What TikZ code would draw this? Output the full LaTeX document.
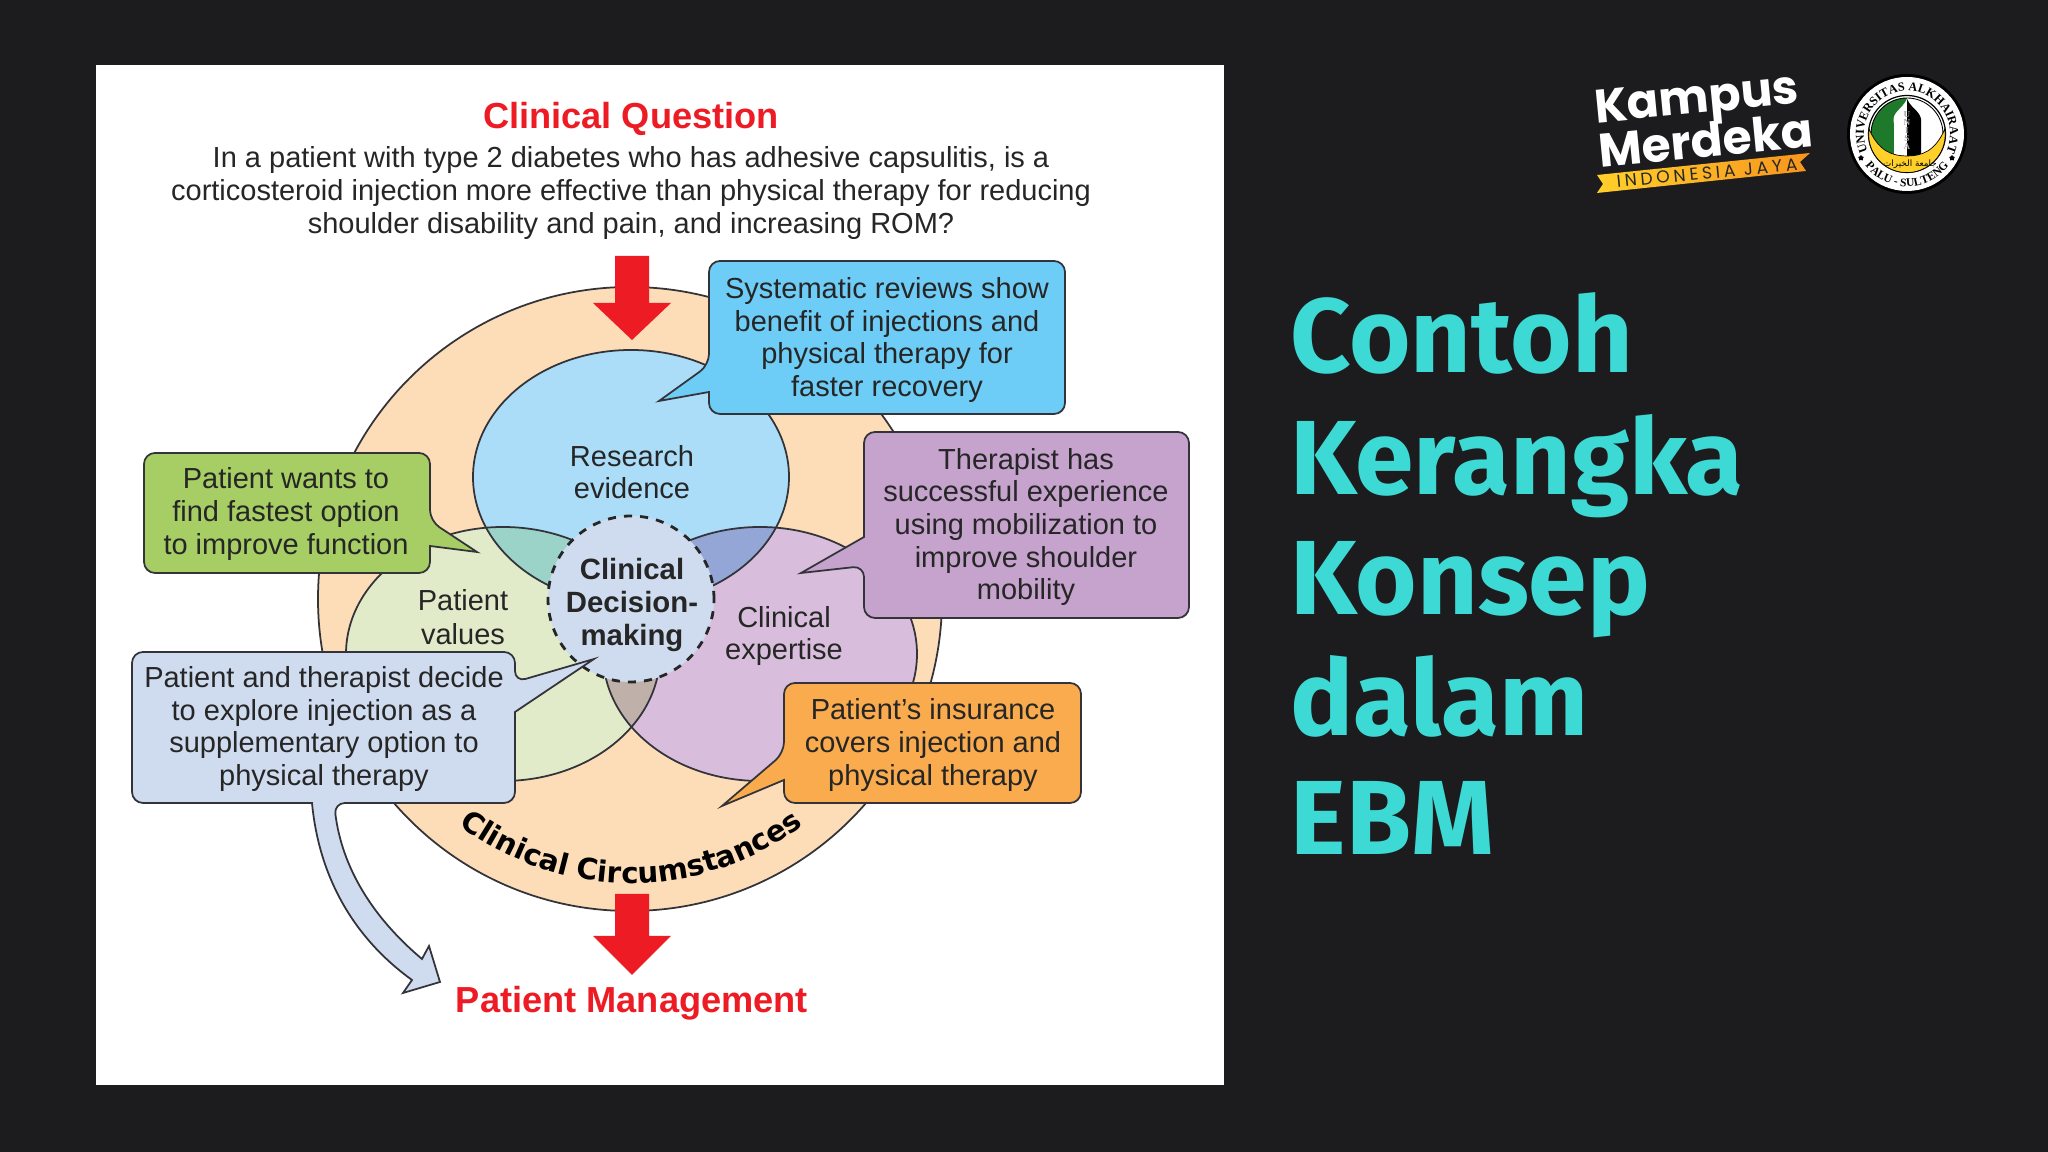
\documentclass[tikz,border=0pt]{standalone}
\usepackage{fontspec}
\usepackage{xcolor}
\usepackage{tikz}
\usetikzlibrary{calc,decorations.text,shapes.geometric}
\setmainfont{Liberation Sans}
\newfontfamily\titlefont{Fira Sans}
\newfontfamily\logofont{Poppins}
\newfontfamily\bannerfont[LetterSpace=22]{Poppins}
\newfontfamily\sealfont{Liberation Serif}
\newfontfamily\heavyfont{DejaVu Sans}
\newfontfamily\sealarabic[Script=Arabic]{DejaVu Sans}
\TeXXeTstate=1
\definecolor{kbg}{HTML}{1C1C1E}
\definecolor{kteal}{HTML}{3DD9D4}
\definecolor{kred}{HTML}{ED1C24}
\definecolor{kline}{HTML}{33333A}
\definecolor{kpeach}{HTML}{FDDCB8}
\definecolor{kresearch}{HTML}{ABDDF8}
\definecolor{kvalues}{HTML}{E1EBC9}
\definecolor{kexpert}{HTML}{D9BDDC}
\definecolor{krv}{HTML}{9BD3C8}
\definecolor{kre}{HTML}{93A6D6}
\definecolor{kve}{HTML}{BFB0AA}
\definecolor{kcentre}{HTML}{CFDBEE}
\definecolor{kcblue}{HTML}{6ECDF6}
\definecolor{kcgreen}{HTML}{A6CE64}
\definecolor{kcpurple}{HTML}{C5A3CD}
\definecolor{kcorange}{HTML}{F9AB4E}
\definecolor{kyellow}{HTML}{FFD02A}
\definecolor{korange}{HTML}{F7941E}
\definecolor{kgreen}{HTML}{1E7A2A}
\tikzset{
  kring/.style={draw=kline, line width=0.5pt},
  kcall/.style={draw=kline, line width=0.5pt},
  ktxt/.style={text=black!85, align=center, inner sep=0pt, font=\fontsize{8.25}{9.3}\selectfont},
  khead/.style={text=kred, align=center, inner sep=0pt, font=\fontsize{10.3}{11}\selectfont\bfseries},
  kbig/.style={text=kteal, anchor=base west, inner sep=0pt, font=\fontsize{30}{30}\selectfont\titlefont\bfseries},
  klogo/.style={text=white, rotate=5.5, inner sep=0pt, font=\fontsize{13.4}{14}\selectfont\logofont\bfseries},
  kstar/.style={star, star points=5, fill=black, inner sep=0pt, minimum size=1.7pt},
}

\begin{document}
\begin{tikzpicture}

  \fill[kbg] (0,0) rectangle (20.48,11.52);
  \useasboundingbox (0,0) rectangle (20.48,11.52);
  \fill[white] (0.96,0.67) rectangle (12.24,10.87);

  % ambiente e circulos
  \fill[kpeach] (6.30,5.53) circle (3.12);
  \draw[kring] (6.30,5.53) circle (3.12);
  \fill[kresearch] (6.31,6.75) ellipse (1.58 and 1.27);
  \fill[kvalues] (5.03,4.98) ellipse (1.57 and 1.27);
  \fill[kexpert] (7.60,4.98) ellipse (1.57 and 1.27);
  \begin{scope}
    \clip (6.31,6.75) ellipse (1.58 and 1.27);
    \fill[krv] (5.03,4.98) ellipse (1.57 and 1.27);
    \fill[kre] (7.60,4.98) ellipse (1.57 and 1.27);
  \end{scope}
  \begin{scope}
    \clip (5.03,4.98) ellipse (1.57 and 1.27);
    \fill[kve] (7.60,4.98) ellipse (1.57 and 1.27);
  \end{scope}
  \draw[kring] (6.31,6.75) ellipse (1.58 and 1.27);
  \draw[kring] (5.03,4.98) ellipse (1.57 and 1.27);
  \draw[kring] (7.60,4.98) ellipse (1.57 and 1.27);
  \fill[kcentre] (6.31,5.53) circle (0.83);
  \draw[black!85, line width=0.8pt, dash pattern=on 2.3pt off 2.3pt] (6.31,5.53) circle (0.83);

  % setas vermelhas
  \foreach \a/\b/\c in {8.96/8.49/8.12, 2.58/2.16/1.77}
    \fill[kred] (6.15,\a) -- (6.49,\a) -- (6.49,\b) -- (6.71,\b) -- (6.32,\c)
      -- (5.93,\b) -- (6.15,\b) -- cycle;

  % baloes
  \draw[kcall, fill=kcblue, rounded corners=1.1mm] (7.09,7.60) -- (7.09,7.38) -- (10.65,7.38)
    -- (10.65,8.91) -- (7.09,8.91) -- (7.09,7.87) [sharp corners] -- (6.59,7.51) -- cycle;
  \draw[kcall, fill=kcgreen, rounded corners=1.1mm] (4.30,6.06) -- (4.30,5.79) -- (1.44,5.79)
    -- (1.44,6.99) -- (4.30,6.99) -- (4.30,6.31) [sharp corners] -- (4.77,6.00) -- cycle;
  \draw[kcall, fill=kcpurple, rounded corners=1.1mm] (8.64,6.15) -- (8.64,7.20) -- (11.89,7.20)
    -- (11.89,5.34) -- (8.64,5.34) -- (8.64,5.86) [sharp corners] -- (8.01,5.79) -- cycle;
  \draw[kcall, fill=kcorange, rounded corners=1.1mm] (7.84,3.72) -- (7.84,3.49) -- (10.81,3.49)
    -- (10.81,4.69) -- (7.84,4.69) -- (7.84,3.99) [sharp corners] -- (7.22,3.46) -- cycle;
  \draw[kcall, fill=kcentre, rounded corners=1.1mm] (5.15,4.40) -- (5.15,3.49) -- (3.34,3.49)
    [sharp corners] .. controls (3.42,2.85) and (3.72,2.35) .. (4.22,1.93)
    -- (4.29,2.06) -- (4.40,1.70) -- (4.03,1.59) -- (4.12,1.72)
    .. controls (3.62,2.08) and (3.20,2.65) .. (3.12,3.49)
    [rounded corners=1.1mm] -- (1.32,3.49) -- (1.32,5.00) -- (5.15,5.00) -- (5.15,4.70)
    [sharp corners] -- (5.94,4.93) -- cycle;

  % textos
  \node[khead] (question) at (6.31,10.33) {Clinical Question};
  \node[ktxt, font=\fontsize{8.25}{9.4}\selectfont] (pico) at (6.31,9.59)
    {In a patient with type 2 diabetes who has adhesive capsulitis, is a\\
     corticosteroid injection more effective than physical therapy for reducing\\
     shoulder disability and pain, and increasing ROM?};
  \node[khead] (management) at (6.32,1.49) {Patient Management};
  \node[ktxt] (research) at (6.32,6.80) {Research\\evidence};
  \node[ktxt, font=\fontsize{8.25}{9.7}\selectfont] (values) at (4.63,5.35) {Patient\\values};
  \node[ktxt] (expertise) at (7.84,5.16) {Clinical\\expertise};
  \node[ktxt, font=\fontsize{8.35}{9.3}\selectfont\bfseries] (decision) at (6.32,5.47)
    {Clinical\\Decision-\\making};
  \node[ktxt] (reviews) at (8.87,8.12) {Systematic reviews show\\benefit of injections and\\physical therapy for\\faster recovery};
  \node[ktxt] (wants) at (2.86,6.38) {Patient wants to\\find fastest option\\to improve function};
  \node[ktxt] (therapist) at (10.26,6.25) {Therapist has\\successful experience\\using mobilization to\\improve shoulder\\mobility};
  \node[ktxt] (explore) at (3.24,4.23) {Patient and therapist decide\\to explore injection as a\\supplementary option to\\physical therapy};
  \node[ktxt] (insurance) at (9.33,4.07) {Patient’s insurance\\covers injection and\\physical therapy};

  \path[decorate, decoration={text along path, text align=center,
      text={|\fontsize{8.3}{9}\selectfont\heavyfont\bfseries|Clinical Circumstances}}]
    (6.31,5.53) ++(205:2.84) arc (205:335:2.84);

  % titulo
  \node[kbig] (contoh) at (12.90,7.79) {Contoh};
  \node[kbig] (kerangka) at (12.90,6.57) {Kerangka};
  \node[kbig] (konsep) at (12.90,5.37) {Konsep};
  \node[kbig] (dalam) at (12.90,4.16) {dalam};
  \node[kbig] (ebm) at (12.90,2.97) {EBM};

  % logo kampus merdeka
  \node[klogo] (kampus) at (16.97,10.49) {Kampus};
  \node[klogo] (merdeka) at (17.06,10.12) {Merdeka};
  \shade[left color=kyellow, right color=korange] (15.97,9.77) -- (18.10,9.99) -- (18.00,9.90)
    -- (18.06,9.81) -- (15.97,9.59) -- (16.03,9.68) -- cycle;
  \node[text=black!85, rotate=5.5, inner sep=0pt, font=\fontsize{4.9}{5}\selectfont\bannerfont] (jaya) at (17.07,9.79) {INDONESIA JAYA};

  % selo
  \begin{scope}[shift={(19.07,10.18)}]
    \fill[black] (0,0) circle (0.60);
    \fill[white] (0,0) circle (0.57);
    \draw[black, line width=0.35pt] (0,0) circle (0.385);
    \begin{scope}
      \clip (0,0) circle (0.36);
      \fill[kgreen] (-0.36,-0.36) rectangle (0,0.36);
    \end{scope}
    \draw[black, line width=0.25pt] (0,0) circle (0.36);
    \fill[white] (0,0.35) .. controls (-0.05,0.24) and (-0.16,0.22) .. (-0.13,0.10)
      -- (-0.13,-0.24) -- (0,-0.24) -- cycle;
    \fill[black] (0,0.35) .. controls (0.05,0.24) and (0.16,0.22) .. (0.14,0.10)
      -- (0.14,-0.24) -- (0,-0.24) -- cycle;
    \filldraw[fill=kyellow, draw=black, line width=0.2pt] (-0.38,0.05) arc (172:368:0.383)
      .. controls (0.28,-0.18) and (0.14,-0.22) .. (0,-0.22)
      .. controls (-0.14,-0.22) and (-0.28,-0.18) .. (-0.38,0.05) -- cycle;
    \foreach \l/\h in {U/0.19, N/0.11, I/0.03, S/-0.05, A/-0.13}
      \node[text=black!35, inner sep=0pt, font=\fontsize{2.6}{3}\selectfont\sealfont\bfseries] (unisa\l) at (0,\h) {\l};
    \node[kstar] (staleft) at (-0.46,-0.24) {};
    \node[kstar] (staright) at (0.45,-0.24) {};
    \path[decorate, decoration={text along path, text align=center,
        text={|\fontsize{3.5}{4}\selectfont\sealfont\bfseries|UNIVERSITAS ALKHAIRAAT}}]
      (240:0.43) arc (240:-60:0.43);
    \path[decorate, decoration={text along path, text align=center,
        text={|\fontsize{3.3}{4}\selectfont\sealfont\bfseries|PALU - SULTENG}}]
      (205:0.525) arc (205:335:0.525);
    \node[inner sep=0pt, font=\fontsize{2.5}{3}\selectfont\sealarabic] (jamiah) at (0.03,-0.30) {\beginR جامعة الخيرات\endR};
  \end{scope}

\end{tikzpicture}
\end{document}
